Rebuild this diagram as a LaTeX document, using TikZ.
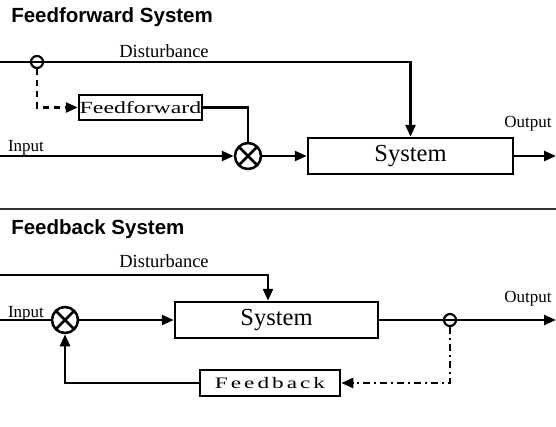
\documentclass[tikz,border=0pt]{standalone}
\usepackage{fontspec}
\setmainfont{Liberation Serif}
\newfontfamily\titlefont{Liberation Sans}
\newfontfamily\wideff[FakeStretch=1.4]{Liberation Serif}
\newfontfamily\widefb[FakeStretch=1.45,LetterSpace=19]{Liberation Serif}
\usetikzlibrary{arrows.meta}

\begin{document}
\begin{tikzpicture}[x=1pt, y=-1pt, line width=2.5pt, >={Triangle[length=12pt,width=10pt]},
  blk/.style={draw, inner sep=0pt, minimum height=25pt},
  mix/.style={draw, circle, minimum size=26pt, inner sep=0pt,
    path picture={\draw (path picture bounding box.north west) -- (path picture bounding box.south east)
                        (path picture bounding box.north east) -- (path picture bounding box.south west);}},
  tap/.style={draw, circle, line width=2.2pt, minimum size=12pt, inner sep=0pt},
  lbl/.style={inner sep=0pt, anchor=base, font=\fontsize{17}{20}\selectfont},
  ttl/.style={inner sep=0pt, anchor=base west, font=\titlefont\bfseries\fontsize{20.5}{24}\selectfont}]
\useasboundingbox (0,0) rectangle (556,426);
\node (1)[ttl] at (10,22) {Feedforward System};
\node (2)[blk, minimum width=123pt] at (140.5,107.5) {\wideff\fontsize{17}{20}\selectfont Feedforward};
\node (3)[blk, minimum width=205pt, minimum height=36pt, font=\fontsize{24.5}{28}\selectfont] at (410.5,156) {System};
\node (4)[mix] at (248,156) {};
\node (5)[tap] at (37,62) {};
\coordinate (6) at (0,62);
\coordinate (7) at (0,156);
\coordinate (8) at (556,156);
\node (9)[lbl, font=\fontsize{18.5}{22}\selectfont] at (164,57) {Disturbance};
\node (10)[lbl] at (26,151) {Input};
\node (11)[lbl] at (528,127) {Output};
\draw[->] (6) -| (3.north);
\draw[->, dash pattern=on 6pt off 5pt] (5.south) |- (2.west);
\draw (2.east) -| (4.north);
\draw[->] (7) -- (4.west);
\draw[->] (4) -- (3);
\draw[->] (3) -- (8);
\coordinate (20) at (0,209);
\coordinate (21) at (556,209);
\draw[line width=1.5pt, black!80] (20) -- (21);
\node (12)[ttl] at (10,234) {Feedback System};
\node (13)[blk, minimum width=203pt, minimum height=36pt, font=\fontsize{24.5}{28}\selectfont] at (276.5,320) {System};
\node (14)[mix] at (65,320) {};
\node (15)[tap] at (450,320) {};
\node (16)[blk, minimum width=140pt, minimum height=26pt] at (270,383) {\widefb\fontsize{16}{19}\selectfont Feedback};
\coordinate (17) at (0,275);
\coordinate (18) at (0,320);
\coordinate (19) at (556,320);
\node (22)[lbl, font=\fontsize{18.5}{22}\selectfont] at (164,267) {Disturbance};
\node (23)[lbl] at (26,317) {Input};
\node (24)[lbl] at (528,302) {Output};
\draw[->] (17) -| ([xshift=-8.5pt]13.north);
\draw (18) -- (14.west);
\draw[->] (14) -- (13);
\draw[->] (13) -- (19);
\draw[->, dash pattern=on 7pt off 4pt on 2pt off 4pt] (15.south) |- (16.east);
\draw[->] (16.west) -| (14.south);
\end{tikzpicture}
\end{document}
